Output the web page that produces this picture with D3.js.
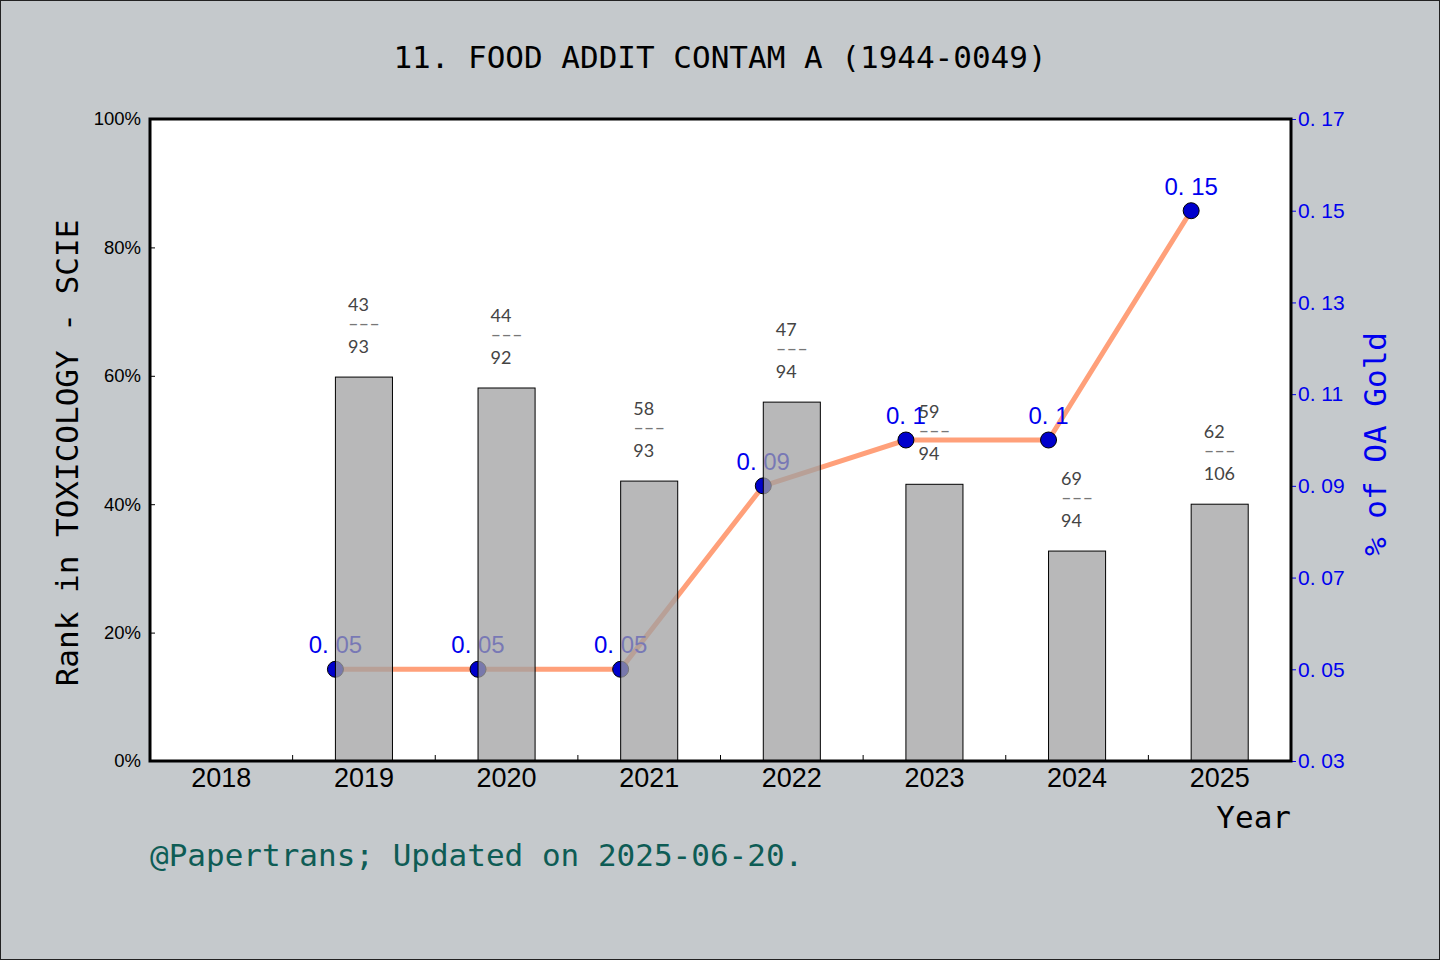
<!DOCTYPE html>
<html>
<head>
<meta charset="utf-8">
<script src="https://cdn.jsdelivr.net/npm/d3@7"></script>
<style>
  body { margin: 0; background: #c5c9cc; }
  svg { display: block; }
</style>
</head>
<body>
<div id="chart"></div>
<script>
// Data
const years = ["2018", "2019", "2020", "2021", "2022", "2023", "2024", "2025"];
const barYears = ["2019", "2020", "2021", "2022", "2023", "2024", "2025"];
const barValues = [0.598, 0.581, 0.436, 0.559, 0.431, 0.327, 0.400];
const rankNum = [43, 44, 58, 47, 59, 69, 62];
const rankTotal = [93, 92, 93, 94, 94, 94, 106];
const oaValues = [0.05, 0.05, 0.05, 0.09, 0.1, 0.1, 0.15];
const leftTicks = [0, 0.2, 0.4, 0.6, 0.8, 1.0];
const rightTicks = [0.03, 0.05, 0.07, 0.09, 0.11, 0.13, 0.15, 0.17];

const W = 1440, H = 960;
const margin = { top: 119, right: 149, bottom: 199, left: 150 },
    width = W - margin.left - margin.right,
    height = H - margin.top - margin.bottom;

const mono = "'DejaVu Sans Mono', 'Liberation Mono', monospace";
const sans = "'Liberation Sans', Arial, sans-serif";

const root = d3.select("#chart")
    .append("svg")
    .attr("width", W)
    .attr("height", H);

// background + thin outer frame
root.append("rect")
    .attr("x", 0.5).attr("y", 0.5)
    .attr("width", W - 1).attr("height", H - 1)
    .attr("fill", "#c5c9cc")
    .attr("stroke", "#222")
    .attr("stroke-width", 1);

const svg = root.append("g")
    .attr("transform", `translate(${margin.left}, ${margin.top})`);

svg.append("rect")
    .attr("width", width).attr("height", height)
    .attr("fill", "#ffffff");

// Scales
const x = d3.scaleBand().domain(years).range([0, width]).padding(0);
const y = d3.scaleLinear().domain([0, 1]).range([height, 0]);
const y2 = d3.scaleLinear().domain([0.03, 0.17]).range([height, 0]);
const step = x.step();
const barW = step * 0.4;

// line + points (drawn under the semi-transparent bars)
const lineData = barYears.map((d, i) => ({ year: d, v: oaValues[i] }));
const lx = d => x(d.year) + step / 2 - step * 0.2;

svg.append("path")
    .datum(lineData)
    .attr("fill", "none")
    .attr("stroke", "#ffa07a")
    .attr("stroke-width", 5)
    .attr("d", d3.line().x(lx).y(d => y2(d.v)));

svg.selectAll(".pt")
    .data(lineData)
    .join("circle")
    .attr("cx", lx)
    .attr("cy", d => y2(d.v))
    .attr("r", 8)
    .attr("fill", "#0000cc")
    .attr("stroke", "#000")
    .attr("stroke-width", 1);

svg.selectAll(".oalab")
    .data(lineData)
    .join("text")
    .attr("x", lx)
    .attr("y", d => y2(d.v) - 16)
    .attr("text-anchor", "middle")
    .attr("font-family", sans)
    .attr("font-size", 24)
    .attr("fill", "#0000ee")
    .text(d => String(d.v).replace(".", ". "));

// bars
const barData = barYears.map((d, i) => ({ year: d, v: barValues[i], n: rankNum[i], t: rankTotal[i] }));

svg.selectAll(".bar")
    .data(barData)
    .join("rect")
    .attr("x", d => x(d.year) + step / 2 - barW / 2)
    .attr("y", d => y(d.v))
    .attr("width", barW)
    .attr("height", d => height - y(d.v))
    .attr("fill", "rgba(160,160,162,0.75)")
    .attr("stroke", "#000")
    .attr("stroke-width", 1);

// rank labels
const rl = svg.selectAll(".rank")
    .data(barData)
    .join("g")
    .attr("transform", d => `translate(${x(d.year) + step / 2 - 16}, ${y(d.v) - 31})`)
    .attr("font-family", "Lato, 'Open Sans', sans-serif")
    .attr("font-size", 18)
    .attr("fill", "#444");

rl.append("text").attr("y", -35).text(d => d.n);
rl.append("text").attr("y", -16)
    .attr("fill", "#777")
    .attr("textLength", 32).attr("lengthAdjust", "spacingAndGlyphs")
    .text("---");
rl.append("text").attr("y", 7).text(d => d.t);

// axes
const xAxis = svg.append("g")
    .attr("transform", `translate(0, ${height})`);
xAxis.selectAll(".xt")
    .data(years.slice(1))
    .join("line")
    .attr("x1", d => x(d)).attr("x2", d => x(d))
    .attr("y1", 0).attr("y2", -6)
    .attr("stroke", "#000");
xAxis.selectAll(".xl")
    .data(years)
    .join("text")
    .attr("x", d => x(d) + step / 2)
    .attr("y", 26)
    .attr("text-anchor", "middle")
    .attr("font-family", sans)
    .attr("font-size", 27)
    .attr("fill", "#000")
    .text(d => d);

const yAxis = svg.append("g")
    .call(d3.axisLeft(y).tickValues(leftTicks).tickSize(-5).tickPadding(9)
        .tickFormat(d3.format(".0%")));
yAxis.select(".domain").remove();
yAxis.selectAll("text")
    .attr("font-family", sans)
    .attr("font-size", 18.5)
    .attr("fill", "#000");

const yAxis2 = svg.append("g")
    .attr("transform", `translate(${width}, 0)`)
    .call(d3.axisRight(y2).tickValues(rightTicks).tickSize(5).tickPadding(2)
        .tickFormat(d => d3.format(".2f")(d).replace(".", ". ")));
yAxis2.select(".domain").remove();
yAxis2.selectAll("line").attr("stroke", "#0000ee");
yAxis2.selectAll("text")
    .attr("font-family", sans)
    .attr("font-size", 21)
    .attr("fill", "#0000ee");

// plot frame
svg.append("rect")
    .attr("width", width).attr("height", height)
    .attr("fill", "none")
    .attr("stroke", "#000")
    .attr("stroke-width", 3);

// titles
root.append("text")
    .attr("x", 720).attr("y", 68)
    .attr("text-anchor", "middle")
    .attr("font-family", mono)
    .attr("font-size", 31)
    .attr("fill", "#000")
    .text("11. FOOD ADDIT CONTAM A (1944-0049)");

root.append("text")
    .attr("transform", "translate(78, 453) rotate(-90)")
    .attr("text-anchor", "middle")
    .attr("font-family", mono)
    .attr("font-size", 31)
    .attr("fill", "#000")
    .text("Rank in TOXICOLOGY - SCIE");

root.append("text")
    .attr("transform", "translate(1386, 444) rotate(-90)")
    .attr("text-anchor", "middle")
    .attr("font-family", mono)
    .attr("font-size", 31)
    .attr("fill", "#0000ee")
    .text("% of OA Gold");

root.append("text")
    .attr("x", 1291).attr("y", 828)
    .attr("text-anchor", "end")
    .attr("font-family", mono)
    .attr("font-size", 31)
    .attr("fill", "#000")
    .text("Year");

root.append("text")
    .attr("x", 150).attr("y", 866)
    .attr("font-family", mono)
    .attr("font-size", 31)
    .attr("fill", "#0e5c55")
    .text("@Papertrans; Updated on 2025-06-20.");
</script>
</body>
</html>
